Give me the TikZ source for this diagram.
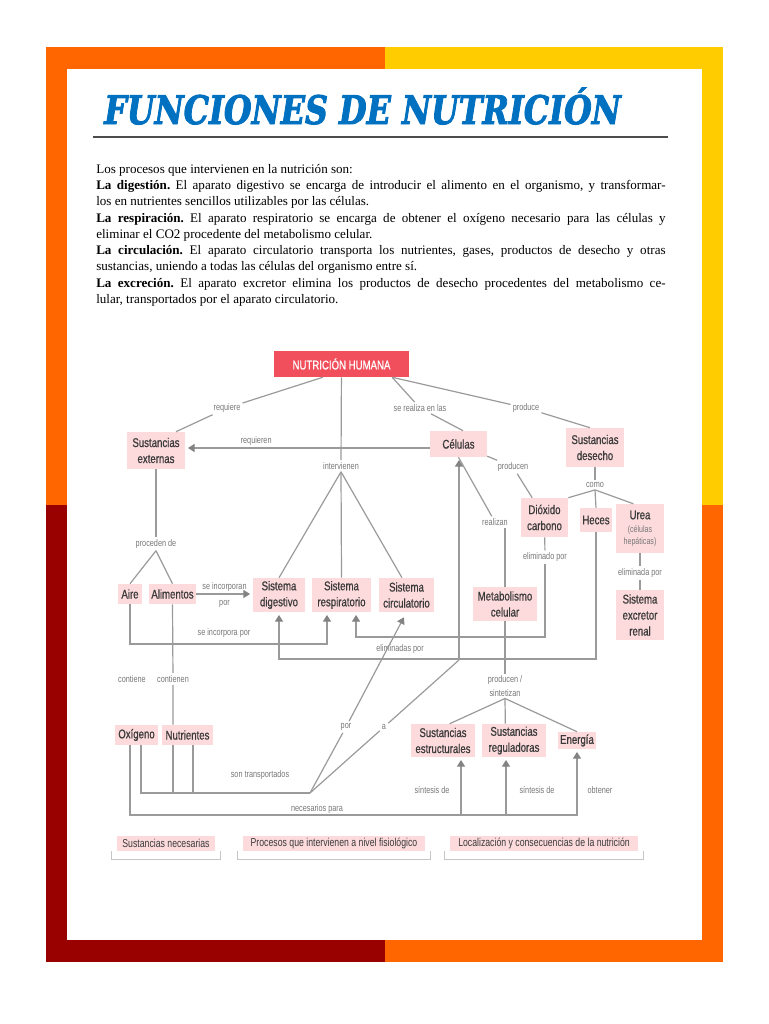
\documentclass[tikz,border=0pt]{standalone}
\usepackage{fontspec}
\usepackage{tikz}
\usetikzlibrary{arrows.meta}
\setmainfont{Liberation Serif}
\newfontfamily\mapa[FakeStretch=0.76]{Liberation Sans}
\newfontfamily\mapab[FakeStretch=0.76, FakeBold=0.7]{Liberation Sans}
\newfontfamily\titulo[FakeBold=2.5]{DejaVu Serif}
\frenchspacing

\definecolor{naranja}{HTML}{FF6600}
\definecolor{amarillo}{HTML}{FFCC00}
\definecolor{granate}{HTML}{990000}
\definecolor{azul}{HTML}{0070C0}
\definecolor{rosa}{HTML}{FDDBDD}
\definecolor{rojo}{HTML}{F14F5B}
\definecolor{linea}{HTML}{9A9A9A}
\definecolor{textomapa}{HTML}{3A3A3A}
\definecolor{textoetiq}{HTML}{777777}

\newcommand{\jline}[1]{\makebox[427pt][s]{#1}}   % justified line
\newcommand{\peq}[1]{\textcolor{textoetiq}{\mapa\fontsize{7}{9}\selectfont #1}}

\tikzset{
  concepto/.style={fill=rosa, text=textomapa, align=center, inner sep=0pt,
    font=\mapab\fontsize{9.5}{12}\selectfont},
  etiqueta/.style={text=textoetiq, align=center, inner sep=1.5pt,
    font=\mapa\fontsize{7.2}{10}\selectfont},
  enlace/.style={draw=linea, line width=0.9pt},
  flecha/.style={enlace, shorten >=2pt,
    -{Triangle[width=6pt,length=5pt,color=linea!85!black]}},
  corchete/.style={draw=gray!45, line width=1pt}
}

\begin{document}
\begin{tikzpicture}[x=0.75pt, y=-0.75pt]
\useasboundingbox (0,0) rectangle (768,1024);

% marco
\fill[naranja] (46,47) rectangle (385,69);
\fill[naranja] (46,47) rectangle (67,505);
\fill[amarillo] (385,47) rectangle (723,69);
\fill[amarillo] (702,47) rectangle (723,505);
\fill[granate] (46,505) rectangle (67,962);
\fill[granate] (46,940) rectangle (385,962);
\fill[naranja] (702,505) rectangle (723,962);
\fill[naranja] (385,940) rectangle (723,962);

% titulo y texto
\node[anchor=base west, inner sep=0pt, text=azul] (tit) at (104,124)
  {\scalebox{0.77}[0.95]{\titulo\bfseries\itshape\fontsize{31}{31}\selectfont FUNCIONES DE NUTRICIÓN}};
\draw[line width=1.1pt, gray!60!black] (93,137) -- (668,137);

\node[anchor=north west, inner sep=0pt, align=left, font=\fontsize{9.8}{12.2}\selectfont] (texto) at (96,164) {%
Los procesos que intervienen en la nutrición son:\\
\jline{\textbf{La digestión.} El aparato digestivo se encarga de introducir el alimento en el organismo, y transformar-}\\
los en nutrientes sencillos utilizables por las células.\\
\jline{\textbf{La respiración.} El aparato respiratorio se encarga de obtener el oxígeno necesario para las células y}\\
eliminar el CO2 procedente del metabolismo celular.\\
\jline{\textbf{La circulación.} El aparato circulatorio transporta los nutrientes, gases, productos de desecho y otras}\\
sustancias, uniendo a todas las células del organismo entre sí.\\
\jline{\textbf{La excreción.} El aparato excretor elimina los productos de desecho procedentes del metabolismo ce-}\\
lular, transportados por el aparato circulatorio.};

% conceptos
\node[concepto, fill=rojo, text=white, minimum width=101.25pt, minimum height=19.5pt] (nh) at (341.5,364) {NUTRICIÓN HUMANA};
\node[concepto, minimum width=43.5pt, minimum height=27.75pt] (sext) at (156,450.5) {Sustancias\\externas};
\node[concepto, minimum width=42.75pt, minimum height=19.5pt] (cel) at (458.5,444) {Células};
\node[concepto, minimum width=43.5pt, minimum height=29.25pt] (sdes) at (595,447.5) {Sustancias\\desecho};
\node[concepto, minimum width=35.25pt, minimum height=29.25pt] (dio) at (544.5,517.5) {Dióxido\\carbono};
\node[concepto, minimum width=24pt, minimum height=18pt] (hec) at (596,520) {Heces};
\node[concepto, minimum width=36pt, minimum height=36.75pt] (urea) at (640,528.5) {Urea\\[-2pt]\peq{(células}\\[-3pt]\peq{hepáticas)}};
\node[concepto, minimum width=36pt, minimum height=37.5pt] (ser) at (640,615) {Sistema\\excretor\\renal};
\node[concepto, minimum width=18pt, minimum height=15pt] (aire) at (130,594) {Aire};
\node[concepto, minimum width=35.25pt, minimum height=15pt] (alim) at (172.5,594) {Alimentos};
\node[concepto, minimum width=39pt, minimum height=25.5pt] (sdig) at (279,595) {Sistema\\digestivo};
\node[concepto, minimum width=44.25pt, minimum height=25.5pt] (sresp) at (341.5,595) {Sistema\\respiratorio};
\node[concepto, minimum width=41.25pt, minimum height=25.5pt] (scirc) at (406.5,595) {Sistema\\circulatorio};
\node[concepto, minimum width=48pt, minimum height=25.5pt] (meta) at (505,604) {Metabolismo\\celular};
\node[concepto, minimum width=32.25pt, minimum height=15pt] (oxi) at (136.5,735) {Oxígeno};
\node[concepto, minimum width=38.25pt, minimum height=15pt] (nutr) at (187.5,735) {Nutrientes};
\node[concepto, minimum width=48pt, minimum height=24.75pt] (sest) at (443,740.5) {Sustancias\\estructurales};
\node[concepto, minimum width=48pt, minimum height=24.75pt] (sreg) at (514,740.5) {Sustancias\\reguladoras};
\node[concepto, minimum width=28.5pt, minimum height=12.75pt] (ener) at (577,740.5) {Energía};

% etiquetas
\node[etiqueta] (lrequiere) at (227,408) {requiere};
\node[etiqueta] (lrealiza) at (420,408) {se realiza en las};
\node[etiqueta] (lproduce) at (526,408) {produce};
\node[etiqueta] (linterv) at (341,466) {intervienen};
\node[etiqueta] (lproced) at (156,544) {proceden de};
\node[etiqueta] (lproducen) at (513,467) {producen};
\node[etiqueta] (lrealizan) at (495,522) {realizan};
\node[etiqueta] (lcomo) at (595,485) {como};
\node[etiqueta] (lelimpor) at (545,557) {eliminado por};
\node[etiqueta] (lelimada) at (640,573) {eliminada por};
\node[etiqueta] (lincorpora) at (224,633) {se incorpora por};
\node[etiqueta] (lelimadas) at (400,649) {eliminadas por};
\node[etiqueta] (lcontiene) at (132,679) {contiene};
\node[etiqueta] (lcontienen) at (173,679) {contienen};
\node[etiqueta] (lprodsint) at (505,686) {producen /\\sintetizan};
\node[etiqueta] (lpor) at (346,727) {por};
\node[etiqueta] (la) at (384,727) {a};
\node[etiqueta] (lsontrans) at (260,775) {son transportados};
\node[etiqueta] (lnecesarios) at (317,809) {necesarios para};
\node[etiqueta] (lsint1) at (432,790) {síntesis de};
\node[etiqueta] (lsint2) at (537,790) {síntesis de};
\node[etiqueta] (lobtener) at (600,790) {obtener};

% enlaces
\draw[enlace] ([xshift=-14pt]nh.south) -- (lrequiere) -- ([xshift=15pt]sext.north);
\draw[enlace] (nh) -- (linterv);
\coordinate (creq) at ([yshift=-3pt]cel.west);
\draw[flecha] (creq) -- (creq -| sext.east) node[etiqueta, pos=0.71, above] {requieren};
\draw[enlace] ([xshift=38pt]nh.south) -- (lrealiza) -- ([xshift=3.4pt]cel.north);
\draw[enlace] ([xshift=38pt]nh.south) -- (lproduce) -- ([xshift=-3.75pt]sdes.north);

\draw[enlace] (linterv.south) -- (sdig.north);
\draw[enlace] (linterv.south) -- (sresp.north);
\draw[enlace] (linterv.south) -- ([xshift=-3.4pt]scirc.north);

\draw[enlace] (sext) -- (lproced);
\draw[enlace] (lproced.south) -- (aire.north);
\draw[enlace] (lproced.south) -- (alim.north);
\draw[flecha] (alim.east) -- (alim.east -| sdig.west)
  node[etiqueta, midway, above] {se incorporan} node[etiqueta, midway, below=3pt] {por};
\draw[flecha] (aire.south) -- (aire.south |- 0,644) -| ([xshift=-10.9pt]sresp.south);
\draw[enlace] (alim.south) -- (lcontienen) -- (lcontienen |- nutr.north);

\coordinate (ctrans) at (310,793);
\coordinate (ccel) at (459,660);
\coordinate (o1) at ([xshift=3.4pt]oxi.south);
\coordinate (n1) at ([xshift=-10.9pt]nutr.south);
\coordinate (n2) at ([xshift=4.1pt]nutr.south);
\draw[enlace] (o1) |- (ctrans);
\draw[enlace] (n1) -- (n1 |- ctrans);
\draw[enlace] (n2) -- (n2 |- ctrans);
\draw[flecha] (ctrans) -- (lpor) -- ([xshift=-1pt,yshift=-2pt]scirc.south);
\draw[enlace] (ctrans) -- (la) -- (ccel);
\draw[flecha] (ccel) -- (ccel |- cel.south);

\draw[flecha] (hec.south) -- (hec.south |- 0,659) -| (sdig.south);
\draw[enlace] (dio) -- (lelimpor);
\draw[flecha] (lelimpor) -- (lelimpor |- 0,637) -| ([xshift=10.9pt]sresp.south);

\draw[enlace] (cel) -- (lproducen) -- (dio);
\draw[enlace] (cel.south) -- (lrealizan);
\draw[enlace] (meta.north |- lrealizan.south) -- (meta.north);

\draw[enlace] (sdes) -- (lcomo);
\draw[enlace] (lcomo.south) -- (dio.north east);
\draw[enlace] (lcomo.south) -- (hec.north);
\draw[enlace] (lcomo.south) -- ([xshift=-5pt]urea.north);
\draw[enlace] (urea) -- (lelimada) -- (ser);

\draw[enlace] (meta) -- (lprodsint);
\draw[enlace] (lprodsint.south) -- ([xshift=5pt]sest.north);
\draw[enlace] (lprodsint.south) -- ([xshift=-6.5pt]sreg.north);
\draw[enlace] (lprodsint.south) -- (ener.north);

\draw[flecha] ([xshift=-4.9pt]oxi.south) |- (ener.south |- 0,815) -- (ener.south);
\coordinate (s1) at ([xshift=13.5pt]sest.south);
\coordinate (s2) at ([xshift=-6pt]sreg.south);
\draw[flecha] (s1 |- 0,815) -- (s1);
\draw[flecha] (s2 |- 0,815) -- (s2);

% leyenda
\node[concepto, font=\mapa\fontsize{8.6}{10}\selectfont, minimum width=73.5pt, minimum height=11.25pt] (leg1) at (166,843.5) {Sustancias necesarias};
\node[concepto, font=\mapa\fontsize{8.6}{10}\selectfont, minimum width=136.5pt, minimum height=11.25pt] (leg2) at (334,843.5) {Procesos que intervienen a nivel fisiológico};
\node[concepto, font=\mapa\fontsize{8.6}{10}\selectfont, minimum width=141pt, minimum height=11.25pt] (leg3) at (544,843.5) {Localización y consecuencias de la nutrición};
\foreach \n in {leg1,leg2,leg3}
  \draw[corchete] ([xshift=-4pt]\n.south west) -- ++(0,8) -| ([xshift=4pt]\n.south east);

\end{tikzpicture}
\end{document}
